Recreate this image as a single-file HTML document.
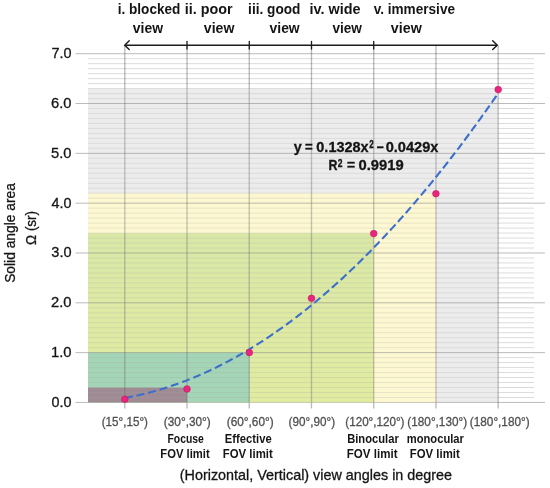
<!DOCTYPE html>
<html><head><meta charset="utf-8"><title>Solid angle area vs view angles</title>
<style>
html,body{margin:0;padding:0;background:#fff;}
body{width:550px;height:488px;overflow:hidden;}
svg{display:block;}
text{font-family:"Liberation Sans",sans-serif;}
.b{font-weight:bold;}
</style></head><body>
<svg width="550" height="488" viewBox="0 0 550 488">
<rect x="0" y="0" width="550" height="488" fill="#ffffff"/>
<g stroke="#000" stroke-opacity="0.14" stroke-width="1">
<line x1="88" x2="534" y1="397.47" y2="397.47"/>
<line x1="88" x2="534" y1="392.49" y2="392.49"/>
<line x1="88" x2="534" y1="387.50" y2="387.50"/>
<line x1="88" x2="534" y1="382.52" y2="382.52"/>
<line x1="88" x2="534" y1="377.54" y2="377.54"/>
<line x1="88" x2="534" y1="372.56" y2="372.56"/>
<line x1="88" x2="534" y1="367.58" y2="367.58"/>
<line x1="88" x2="534" y1="362.59" y2="362.59"/>
<line x1="88" x2="534" y1="357.61" y2="357.61"/>
<line x1="88" x2="534" y1="347.65" y2="347.65"/>
<line x1="88" x2="534" y1="342.67" y2="342.67"/>
<line x1="88" x2="534" y1="337.68" y2="337.68"/>
<line x1="88" x2="534" y1="332.70" y2="332.70"/>
<line x1="88" x2="534" y1="327.72" y2="327.72"/>
<line x1="88" x2="534" y1="322.74" y2="322.74"/>
<line x1="88" x2="534" y1="317.76" y2="317.76"/>
<line x1="88" x2="534" y1="312.77" y2="312.77"/>
<line x1="88" x2="534" y1="307.79" y2="307.79"/>
<line x1="88" x2="534" y1="297.83" y2="297.83"/>
<line x1="88" x2="534" y1="292.85" y2="292.85"/>
<line x1="88" x2="534" y1="287.86" y2="287.86"/>
<line x1="88" x2="534" y1="282.88" y2="282.88"/>
<line x1="88" x2="534" y1="277.90" y2="277.90"/>
<line x1="88" x2="534" y1="272.92" y2="272.92"/>
<line x1="88" x2="534" y1="267.94" y2="267.94"/>
<line x1="88" x2="534" y1="262.95" y2="262.95"/>
<line x1="88" x2="534" y1="257.97" y2="257.97"/>
<line x1="88" x2="534" y1="248.01" y2="248.01"/>
<line x1="88" x2="534" y1="243.03" y2="243.03"/>
<line x1="88" x2="534" y1="238.04" y2="238.04"/>
<line x1="88" x2="534" y1="233.06" y2="233.06"/>
<line x1="88" x2="534" y1="228.08" y2="228.08"/>
<line x1="88" x2="534" y1="223.10" y2="223.10"/>
<line x1="88" x2="534" y1="218.12" y2="218.12"/>
<line x1="88" x2="534" y1="213.13" y2="213.13"/>
<line x1="88" x2="534" y1="208.15" y2="208.15"/>
<line x1="88" x2="534" y1="198.19" y2="198.19"/>
<line x1="88" x2="534" y1="193.21" y2="193.21"/>
<line x1="88" x2="534" y1="188.22" y2="188.22"/>
<line x1="88" x2="534" y1="183.24" y2="183.24"/>
<line x1="88" x2="534" y1="178.26" y2="178.26"/>
<line x1="88" x2="534" y1="173.28" y2="173.28"/>
<line x1="88" x2="534" y1="168.30" y2="168.30"/>
<line x1="88" x2="534" y1="163.31" y2="163.31"/>
<line x1="88" x2="534" y1="158.33" y2="158.33"/>
<line x1="88" x2="534" y1="148.37" y2="148.37"/>
<line x1="88" x2="534" y1="143.39" y2="143.39"/>
<line x1="88" x2="534" y1="138.40" y2="138.40"/>
<line x1="88" x2="534" y1="133.42" y2="133.42"/>
<line x1="88" x2="534" y1="128.44" y2="128.44"/>
<line x1="88" x2="534" y1="123.46" y2="123.46"/>
<line x1="88" x2="534" y1="118.48" y2="118.48"/>
<line x1="88" x2="534" y1="113.49" y2="113.49"/>
<line x1="88" x2="534" y1="108.51" y2="108.51"/>
<line x1="88" x2="534" y1="98.55" y2="98.55"/>
<line x1="88" x2="534" y1="93.57" y2="93.57"/>
<line x1="88" x2="534" y1="88.58" y2="88.58"/>
<line x1="88" x2="534" y1="83.60" y2="83.60"/>
<line x1="88" x2="534" y1="78.62" y2="78.62"/>
<line x1="88" x2="534" y1="73.64" y2="73.64"/>
<line x1="88" x2="534" y1="68.66" y2="68.66"/>
<line x1="88" x2="534" y1="63.67" y2="63.67"/>
<line x1="88" x2="534" y1="58.69" y2="58.69"/>
</g>
<g stroke="#000" stroke-opacity="0.27" stroke-width="1">
<line x1="75.5" x2="545" y1="402.45" y2="402.45"/>
<line x1="75.5" x2="545" y1="352.63" y2="352.63"/>
<line x1="75.5" x2="545" y1="302.81" y2="302.81"/>
<line x1="75.5" x2="545" y1="252.99" y2="252.99"/>
<line x1="75.5" x2="545" y1="203.17" y2="203.17"/>
<line x1="75.5" x2="545" y1="153.35" y2="153.35"/>
<line x1="75.5" x2="545" y1="103.53" y2="103.53"/>
<line x1="75.5" x2="545" y1="53.71" y2="53.71"/>
</g>
<g stroke="#000" stroke-opacity="0.27" stroke-width="1.35">
<line x1="124.80" x2="124.80" y1="45.3" y2="408.5"/>
<line x1="187.03" x2="187.03" y1="45.3" y2="408.5"/>
<line x1="249.26" x2="249.26" y1="45.3" y2="408.5"/>
<line x1="311.49" x2="311.49" y1="45.3" y2="408.5"/>
<line x1="373.72" x2="373.72" y1="45.3" y2="408.5"/>
<line x1="435.95" x2="435.95" y1="45.3" y2="408.5"/>
<line x1="498.18" x2="498.18" y1="45.3" y2="408.5"/>
</g>
<defs><linearGradient id="gg" x1="0" y1="0" x2="0" y2="1"><stop offset="0" stop-color="#d9e8a7"/><stop offset="0.5" stop-color="#deeaa4"/><stop offset="1" stop-color="#e1eba1"/></linearGradient></defs>
<rect x="88" y="89.1" width="410.2" height="313.4" fill="#ececec"/>
<rect x="88" y="193.2" width="348.0" height="209.2" fill="#fdf8d1"/>
<rect x="88" y="233.1" width="285.8" height="169.4" fill="url(#gg)"/>
<rect x="88" y="352.6" width="161.3" height="49.8" fill="#a4d5b6"/>
<rect x="88" y="387.5" width="99.0" height="14.9" fill="#9f8b93"/>
<clipPath id="rg"><rect x="88" y="89.6" width="410.2" height="312.9"/></clipPath>
<g clip-path="url(#rg)">
<g stroke="#a8a8a8" stroke-opacity="0.24" stroke-width="1">
<line x1="88" x2="534" y1="397.47" y2="397.47"/>
<line x1="88" x2="534" y1="392.49" y2="392.49"/>
<line x1="88" x2="534" y1="387.50" y2="387.50"/>
<line x1="88" x2="534" y1="382.52" y2="382.52"/>
<line x1="88" x2="534" y1="377.54" y2="377.54"/>
<line x1="88" x2="534" y1="372.56" y2="372.56"/>
<line x1="88" x2="534" y1="367.58" y2="367.58"/>
<line x1="88" x2="534" y1="362.59" y2="362.59"/>
<line x1="88" x2="534" y1="357.61" y2="357.61"/>
<line x1="88" x2="534" y1="347.65" y2="347.65"/>
<line x1="88" x2="534" y1="342.67" y2="342.67"/>
<line x1="88" x2="534" y1="337.68" y2="337.68"/>
<line x1="88" x2="534" y1="332.70" y2="332.70"/>
<line x1="88" x2="534" y1="327.72" y2="327.72"/>
<line x1="88" x2="534" y1="322.74" y2="322.74"/>
<line x1="88" x2="534" y1="317.76" y2="317.76"/>
<line x1="88" x2="534" y1="312.77" y2="312.77"/>
<line x1="88" x2="534" y1="307.79" y2="307.79"/>
<line x1="88" x2="534" y1="297.83" y2="297.83"/>
<line x1="88" x2="534" y1="292.85" y2="292.85"/>
<line x1="88" x2="534" y1="287.86" y2="287.86"/>
<line x1="88" x2="534" y1="282.88" y2="282.88"/>
<line x1="88" x2="534" y1="277.90" y2="277.90"/>
<line x1="88" x2="534" y1="272.92" y2="272.92"/>
<line x1="88" x2="534" y1="267.94" y2="267.94"/>
<line x1="88" x2="534" y1="262.95" y2="262.95"/>
<line x1="88" x2="534" y1="257.97" y2="257.97"/>
<line x1="88" x2="534" y1="248.01" y2="248.01"/>
<line x1="88" x2="534" y1="243.03" y2="243.03"/>
<line x1="88" x2="534" y1="238.04" y2="238.04"/>
<line x1="88" x2="534" y1="233.06" y2="233.06"/>
<line x1="88" x2="534" y1="228.08" y2="228.08"/>
<line x1="88" x2="534" y1="223.10" y2="223.10"/>
<line x1="88" x2="534" y1="218.12" y2="218.12"/>
<line x1="88" x2="534" y1="213.13" y2="213.13"/>
<line x1="88" x2="534" y1="208.15" y2="208.15"/>
<line x1="88" x2="534" y1="198.19" y2="198.19"/>
<line x1="88" x2="534" y1="193.21" y2="193.21"/>
<line x1="88" x2="534" y1="188.22" y2="188.22"/>
<line x1="88" x2="534" y1="183.24" y2="183.24"/>
<line x1="88" x2="534" y1="178.26" y2="178.26"/>
<line x1="88" x2="534" y1="173.28" y2="173.28"/>
<line x1="88" x2="534" y1="168.30" y2="168.30"/>
<line x1="88" x2="534" y1="163.31" y2="163.31"/>
<line x1="88" x2="534" y1="158.33" y2="158.33"/>
<line x1="88" x2="534" y1="148.37" y2="148.37"/>
<line x1="88" x2="534" y1="143.39" y2="143.39"/>
<line x1="88" x2="534" y1="138.40" y2="138.40"/>
<line x1="88" x2="534" y1="133.42" y2="133.42"/>
<line x1="88" x2="534" y1="128.44" y2="128.44"/>
<line x1="88" x2="534" y1="123.46" y2="123.46"/>
<line x1="88" x2="534" y1="118.48" y2="118.48"/>
<line x1="88" x2="534" y1="113.49" y2="113.49"/>
<line x1="88" x2="534" y1="108.51" y2="108.51"/>
<line x1="88" x2="534" y1="98.55" y2="98.55"/>
<line x1="88" x2="534" y1="93.57" y2="93.57"/>
<line x1="88" x2="534" y1="88.58" y2="88.58"/>
<line x1="88" x2="534" y1="83.60" y2="83.60"/>
<line x1="88" x2="534" y1="78.62" y2="78.62"/>
<line x1="88" x2="534" y1="73.64" y2="73.64"/>
<line x1="88" x2="534" y1="68.66" y2="68.66"/>
<line x1="88" x2="534" y1="63.67" y2="63.67"/>
<line x1="88" x2="534" y1="58.69" y2="58.69"/>
</g>
<g stroke="#909090" stroke-opacity="0.6" stroke-width="1">
<line x1="75.5" x2="545" y1="402.45" y2="402.45"/>
<line x1="75.5" x2="545" y1="352.63" y2="352.63"/>
<line x1="75.5" x2="545" y1="302.81" y2="302.81"/>
<line x1="75.5" x2="545" y1="252.99" y2="252.99"/>
<line x1="75.5" x2="545" y1="203.17" y2="203.17"/>
<line x1="75.5" x2="545" y1="153.35" y2="153.35"/>
<line x1="75.5" x2="545" y1="103.53" y2="103.53"/>
<line x1="75.5" x2="545" y1="53.71" y2="53.71"/>
</g>
<g stroke="#606060" stroke-opacity="0.36" stroke-width="1.35">
<line x1="124.80" x2="124.80" y1="45.3" y2="408.5"/>
<line x1="187.03" x2="187.03" y1="45.3" y2="408.5"/>
<line x1="249.26" x2="249.26" y1="45.3" y2="408.5"/>
<line x1="311.49" x2="311.49" y1="45.3" y2="408.5"/>
<line x1="373.72" x2="373.72" y1="45.3" y2="408.5"/>
<line x1="435.95" x2="435.95" y1="45.3" y2="408.5"/>
<line x1="498.18" x2="498.18" y1="45.3" y2="408.5"/>
</g>
</g>
<g stroke="#1c1c1c" stroke-width="1.45" fill="none" stroke-linecap="round" stroke-linejoin="miter">
<line x1="125.2" x2="496.8" y1="45.15" y2="45.15" stroke-linecap="butt"/>
<polyline points="129.2,40.8 124.75,45.15 129.2,49.5"/>
<polyline points="492.7,40.8 497.25,45.15 492.7,49.5"/>
<line x1="187.0" x2="187.0" y1="41.4" y2="49.0" stroke-width="1.3"/>
<line x1="249.3" x2="249.3" y1="41.4" y2="49.0" stroke-width="1.3"/>
<line x1="311.5" x2="311.5" y1="41.4" y2="49.0" stroke-width="1.3"/>
<line x1="373.7" x2="373.7" y1="41.4" y2="49.0" stroke-width="1.3"/>
</g>
<path d="M124.8,398.0 L125.5,397.8 L126.3,397.7 L127.0,397.6 L127.8,397.4 L128.5,397.3 L129.3,397.1 L130.0,397.0 L130.8,396.8 L131.5,396.7 L132.3,396.5 L132.8,396.4 M136.5,395.7 L137.2,395.5 L138.0,395.3 L138.7,395.2 L139.5,395.0 L140.2,394.8 L141.0,394.6 L141.7,394.5 L142.5,394.3 L143.2,394.1 L144.0,393.9 L144.3,393.8 M148.1,392.9 L148.8,392.7 L149.6,392.5 L150.3,392.3 L151.1,392.1 L151.8,391.9 L152.6,391.7 L153.3,391.5 L154.0,391.3 L154.8,391.1 L155.5,390.9 L155.8,390.8 M159.5,389.7 L160.3,389.5 L161.0,389.3 L161.8,389.0 L162.5,388.8 L163.3,388.6 L164.0,388.4 L164.8,388.1 L165.5,387.9 L166.2,387.6 L167.0,387.4 L167.2,387.3 M171.0,386.1 L171.7,385.8 L172.5,385.6 L173.2,385.3 L174.0,385.1 L174.7,384.8 L175.5,384.6 L176.2,384.3 L176.9,384.0 L177.7,383.8 L178.4,383.5 L178.4,383.5 M182.2,382.1 L182.9,381.8 L183.7,381.6 L184.4,381.3 L185.2,381.0 L185.9,380.7 L186.7,380.4 L187.4,380.1 L188.2,379.8 L188.9,379.5 L189.6,379.2 L189.6,379.2 M193.3,377.8 L194.0,377.5 L194.7,377.1 L195.5,376.8 L196.2,376.5 L197.0,376.2 L197.7,375.9 L198.5,375.6 L199.2,375.2 L200.0,374.9 L200.6,374.6 M204.1,373.1 L204.8,372.8 L205.6,372.4 L206.3,372.1 L207.1,371.7 L207.8,371.4 L208.6,371.1 L209.3,370.7 L210.1,370.4 L210.8,370.0 L211.4,369.7 M214.9,368.0 L215.7,367.7 L216.4,367.3 L217.1,366.9 L217.9,366.6 L218.6,366.2 L219.4,365.8 L220.1,365.4 L220.9,365.1 L221.6,364.7 L222.1,364.4 M225.5,362.7 L226.2,362.3 L227.0,361.9 L227.7,361.5 L228.5,361.1 L229.2,360.7 L230.0,360.3 L230.7,359.9 L231.5,359.5 L232.2,359.1 L232.6,358.9 M236.1,357.0 L236.8,356.6 L237.6,356.1 L238.3,355.7 L239.1,355.3 L239.8,354.9 L240.5,354.4 L241.3,354.0 L242.0,353.6 L242.8,353.2 L242.9,353.1 M246.3,351.1 L247.0,350.7 L247.8,350.2 L248.5,349.8 L249.3,349.3 L250.0,348.9 L250.8,348.4 L251.5,348.0 L252.2,347.5 L253.0,347.0 L253.1,347.0 M256.5,344.9 L257.2,344.4 L258.0,343.9 L258.7,343.5 L259.5,343.0 L260.2,342.5 L261.0,342.0 L261.7,341.5 L262.5,341.1 L263.2,340.6 L263.2,340.6 M266.4,338.4 L267.2,338.0 L267.9,337.5 L268.7,337.0 L269.4,336.5 L270.2,336.0 L270.9,335.4 L271.7,334.9 L272.4,334.4 L273.2,333.9 L273.2,333.9 M276.3,331.8 L277.0,331.2 L277.8,330.7 L278.5,330.2 L279.3,329.7 L280.0,329.1 L280.7,328.6 L281.5,328.1 L282.2,327.6 L282.9,327.1 M286.0,324.9 L286.7,324.3 L287.5,323.8 L288.2,323.2 L289.0,322.7 L289.7,322.1 L290.5,321.6 L291.2,321.0 L291.9,320.4 L292.4,320.1 M295.6,317.7 L296.3,317.1 L297.1,316.6 L297.8,316.0 L298.5,315.4 L299.3,314.8 L300.0,314.3 L300.8,313.7 L301.5,313.1 L301.9,312.8 M305.0,310.4 L305.8,309.8 L306.5,309.2 L307.3,308.6 L308.0,308.0 L308.8,307.4 L309.5,306.8 L310.2,306.2 L311.0,305.5 L311.2,305.3 M314.2,302.9 L315.0,302.3 L315.7,301.7 L316.5,301.0 L317.2,300.4 L318.0,299.8 L318.7,299.2 L319.5,298.5 L320.2,297.9 L320.3,297.8 M323.2,295.4 L323.9,294.7 L324.7,294.1 L325.4,293.4 L326.2,292.8 L326.9,292.1 L327.7,291.5 L328.4,290.8 L329.2,290.2 L329.2,290.2 M331.9,287.8 L332.6,287.1 L333.4,286.4 L334.1,285.8 L334.9,285.1 L335.6,284.4 L336.4,283.8 L337.1,283.1 L337.9,282.4 L337.9,282.4 M340.6,279.9 L341.4,279.2 L342.1,278.6 L342.9,277.9 L343.6,277.2 L344.3,276.5 L345.1,275.8 L345.8,275.1 L346.5,274.5 M349.2,271.9 L349.9,271.2 L350.7,270.5 L351.4,269.8 L352.2,269.1 L352.9,268.4 L353.7,267.7 L354.4,266.9 L354.9,266.5 M357.5,263.9 L358.3,263.2 L359.0,262.5 L359.8,261.7 L360.5,261.0 L361.3,260.3 L362.0,259.5 L362.8,258.8 L363.3,258.3 M365.9,255.7 L366.6,254.9 L367.4,254.2 L368.1,253.4 L368.9,252.7 L369.6,251.9 L370.4,251.2 L371.1,250.4 L371.5,250.0 M374.1,247.3 L374.8,246.6 L375.6,245.8 L376.3,245.0 L377.1,244.3 L377.8,243.5 L378.6,242.7 L379.3,241.9 L379.6,241.7 M382.2,238.9 L382.9,238.1 L383.7,237.3 L384.4,236.5 L385.2,235.7 L385.9,234.9 L386.7,234.1 L387.4,233.3 L387.7,233.1 M390.1,230.4 L390.9,229.6 L391.6,228.7 L392.4,227.9 L393.1,227.1 L393.9,226.3 L394.6,225.5 L395.4,224.7 L395.5,224.5 M398.0,221.8 L398.7,220.9 L399.5,220.1 L400.2,219.3 L401.0,218.4 L401.7,217.6 L402.5,216.7 L403.2,215.9 L403.3,215.8 M405.7,213.1 L406.5,212.2 L407.2,211.4 L407.9,210.5 L408.7,209.7 L409.4,208.8 L410.2,207.9 L410.9,207.1 L410.9,207.1 M413.4,204.2 L414.2,203.3 L414.9,202.5 L415.7,201.6 L416.4,200.7 L417.2,199.8 L417.9,198.9 L418.5,198.2 M420.9,195.4 L421.6,194.5 L422.4,193.6 L423.1,192.7 L423.9,191.8 L424.6,190.9 L425.4,190.0 L426.0,189.3 M428.4,186.4 L429.1,185.5 L429.9,184.6 L430.6,183.7 L431.3,182.8 L432.1,181.9 L432.8,180.9 L433.5,180.2 M435.7,177.4 L436.4,176.5 L437.2,175.5 L437.9,174.6 L438.7,173.7 L439.4,172.7 L440.2,171.8 L440.8,171.0 M443.0,168.2 L443.8,167.3 L444.5,166.3 L445.3,165.4 L446.0,164.4 L446.8,163.5 L447.5,162.5 L448.0,161.9 M450.3,159.0 L451.0,158.0 L451.8,157.0 L452.5,156.1 L453.2,155.1 L454.0,154.1 L454.7,153.2 L455.1,152.7 M457.4,149.7 L458.1,148.8 L458.9,147.8 L459.6,146.8 L460.3,145.8 L461.1,144.8 L461.8,143.8 L462.2,143.3 M464.3,140.5 L465.1,139.5 L465.8,138.5 L466.6,137.5 L467.3,136.5 L468.1,135.5 L468.8,134.5 L469.2,134.0 M471.3,131.1 L472.0,130.1 L472.8,129.0 L473.5,128.0 L474.3,127.0 L475.0,126.0 L475.8,124.9 L476.0,124.6 M478.1,121.7 L478.9,120.6 L479.6,119.6 L480.4,118.6 L481.1,117.5 L481.9,116.5 L482.6,115.4 L482.9,115.1 M485.0,112.1 L485.7,111.1 L486.5,110.0 L487.2,108.9 L488.0,107.9 L488.7,106.8 L489.5,105.8 L489.6,105.6 M491.7,102.6 L492.5,101.5 L493.2,100.4 L493.9,99.3 L494.7,98.3 L495.4,97.2 L496.2,96.1 L496.3,95.9" fill="none" stroke="#3b6fcb" stroke-width="2.1"/>
<circle cx="124.8" cy="399.3" r="3.3" fill="#e9267d" stroke="#c91a68" stroke-width="0.7"/>
<circle cx="187.0" cy="389.0" r="3.3" fill="#e9267d" stroke="#c91a68" stroke-width="0.7"/>
<circle cx="249.3" cy="352.6" r="3.3" fill="#e9267d" stroke="#c91a68" stroke-width="0.7"/>
<circle cx="311.5" cy="298.3" r="3.3" fill="#e9267d" stroke="#c91a68" stroke-width="0.7"/>
<circle cx="373.7" cy="233.6" r="3.3" fill="#e9267d" stroke="#c91a68" stroke-width="0.7"/>
<circle cx="435.9" cy="193.7" r="3.3" fill="#e9267d" stroke="#c91a68" stroke-width="0.7"/>
<circle cx="498.2" cy="89.6" r="3.3" fill="#e9267d" stroke="#c91a68" stroke-width="0.7"/>
<text x="117.70" y="14.2" font-size="14.4" textLength="62.71" lengthAdjust="spacingAndGlyphs" fill="#151515" class="b">i. blocked</text>
<text x="132.78" y="32.6" font-size="14.4" textLength="30.22" lengthAdjust="spacingAndGlyphs" fill="#151515" class="b">view</text>
<text x="184.77" y="14.2" font-size="14.4" textLength="47.76" lengthAdjust="spacingAndGlyphs" fill="#151515" class="b">ii. poor</text>
<text x="203.86" y="32.6" font-size="14.4" textLength="30.54" lengthAdjust="spacingAndGlyphs" fill="#151515" class="b">view</text>
<text x="248.10" y="14.2" font-size="14.4" textLength="52.30" lengthAdjust="spacingAndGlyphs" fill="#151515" class="b">iii. good</text>
<text x="269.53" y="32.6" font-size="14.4" textLength="30.19" lengthAdjust="spacingAndGlyphs" fill="#151515" class="b">view</text>
<text x="309.58" y="14.2" font-size="14.4" textLength="50.98" lengthAdjust="spacingAndGlyphs" fill="#151515" class="b">iv. wide</text>
<text x="332.42" y="32.6" font-size="14.4" textLength="29.49" lengthAdjust="spacingAndGlyphs" fill="#151515" class="b">view</text>
<text x="373.64" y="14.2" font-size="14.4" textLength="81.40" lengthAdjust="spacingAndGlyphs" fill="#151515" class="b">v. immersive</text>
<text x="390.84" y="32.6" font-size="14.4" textLength="30.90" lengthAdjust="spacingAndGlyphs" fill="#151515" class="b">view</text>
<text x="51.55" y="406.8" font-size="14.8" textLength="19.97" lengthAdjust="spacingAndGlyphs" fill="#151515" stroke="#151515" stroke-width="0.3">0.0</text>
<text x="50.96" y="357.0" font-size="14.8" textLength="20.57" lengthAdjust="spacingAndGlyphs" fill="#151515" stroke="#151515" stroke-width="0.3">1.0</text>
<text x="51.01" y="307.2" font-size="14.8" textLength="20.52" lengthAdjust="spacingAndGlyphs" fill="#151515" stroke="#151515" stroke-width="0.3">2.0</text>
<text x="51.32" y="257.4" font-size="14.8" textLength="20.21" lengthAdjust="spacingAndGlyphs" fill="#151515" stroke="#151515" stroke-width="0.3">3.0</text>
<text x="51.59" y="207.6" font-size="14.8" textLength="19.96" lengthAdjust="spacingAndGlyphs" fill="#151515" stroke="#151515" stroke-width="0.3">4.0</text>
<text x="51.10" y="157.8" font-size="14.8" textLength="20.45" lengthAdjust="spacingAndGlyphs" fill="#151515" stroke="#151515" stroke-width="0.3">5.0</text>
<text x="51.12" y="107.9" font-size="14.8" textLength="20.44" lengthAdjust="spacingAndGlyphs" fill="#151515" stroke="#151515" stroke-width="0.3">6.0</text>
<text x="51.49" y="58.1" font-size="14.8" textLength="20.06" lengthAdjust="spacingAndGlyphs" fill="#151515" stroke="#151515" stroke-width="0.3">7.0</text>
<g transform="translate(15.2,282.87) rotate(-90)"><text x="0" y="0" font-size="14.2" textLength="99.72" lengthAdjust="spacingAndGlyphs" fill="#151515" stroke="#151515" stroke-width="0.3">Solid angle area</text></g>
<g transform="translate(36.1,244.92) rotate(-90)"><text x="0" y="0" font-size="14.2" textLength="33.99" lengthAdjust="spacingAndGlyphs" fill="#151515" stroke="#151515" stroke-width="0.3">Ω (sr)</text></g>
<text x="101.66" y="426.3" font-size="12.4" textLength="46.31" lengthAdjust="spacingAndGlyphs" fill="#505050" stroke="#505050" stroke-width="0.3">(15°,15°)</text>
<text x="163.82" y="426.3" font-size="12.4" textLength="46.92" lengthAdjust="spacingAndGlyphs" fill="#505050" stroke="#505050" stroke-width="0.3">(30°,30°)</text>
<text x="226.69" y="426.3" font-size="12.4" textLength="46.98" lengthAdjust="spacingAndGlyphs" fill="#505050" stroke="#505050" stroke-width="0.3">(60°,60°)</text>
<text x="288.62" y="426.3" font-size="12.4" textLength="46.45" lengthAdjust="spacingAndGlyphs" fill="#505050" stroke="#505050" stroke-width="0.3">(90°,90°)</text>
<text x="345.29" y="426.3" font-size="12.4" textLength="59.22" lengthAdjust="spacingAndGlyphs" fill="#505050" stroke="#505050" stroke-width="0.3">(120°,120°)</text>
<text x="407.34" y="426.3" font-size="12.4" textLength="59.79" lengthAdjust="spacingAndGlyphs" fill="#505050" stroke="#505050" stroke-width="0.3">(180°,130°)</text>
<text x="469.82" y="426.3" font-size="12.4" textLength="59.82" lengthAdjust="spacingAndGlyphs" fill="#505050" stroke="#505050" stroke-width="0.3">(180°,180°)</text>
<text x="167.52" y="443.2" font-size="12.4" textLength="36.39" lengthAdjust="spacingAndGlyphs" fill="#151515" class="b">Focuse</text>
<text x="160.34" y="458.3" font-size="12.4" textLength="49.35" lengthAdjust="spacingAndGlyphs" fill="#151515" class="b">FOV limit</text>
<text x="224.80" y="443.2" font-size="12.4" textLength="46.92" lengthAdjust="spacingAndGlyphs" fill="#151515" class="b">Effective</text>
<text x="222.78" y="458.3" font-size="12.4" textLength="50.00" lengthAdjust="spacingAndGlyphs" fill="#151515" class="b">FOV limit</text>
<text x="347.15" y="443.2" font-size="12.4" textLength="51.64" lengthAdjust="spacingAndGlyphs" fill="#151515" class="b">Binocular</text>
<text x="346.82" y="458.3" font-size="12.4" textLength="50.67" lengthAdjust="spacingAndGlyphs" fill="#151515" class="b">FOV limit</text>
<text x="406.79" y="443.2" font-size="12.4" textLength="57.10" lengthAdjust="spacingAndGlyphs" fill="#151515" class="b">monocular</text>
<text x="409.78" y="458.3" font-size="12.4" textLength="49.94" lengthAdjust="spacingAndGlyphs" fill="#151515" class="b">FOV limit</text>
<text x="179.82" y="480.1" font-size="14.8" textLength="272.26" lengthAdjust="spacingAndGlyphs" fill="#151515" stroke="#151515" stroke-width="0.3">(Horizontal, Vertical) view angles in degree</text>
<text class="b" fill="#151515" stroke="#151515" stroke-width="0.3"><tspan x="293.80" y="152.0" font-size="14.4" textLength="8.03" lengthAdjust="spacingAndGlyphs">y</tspan> <tspan x="305.12" y="152.0" font-size="14.4" textLength="7.67" lengthAdjust="spacingAndGlyphs">=</tspan> <tspan x="316.34" y="152.0" font-size="14.4" textLength="52.30" lengthAdjust="spacingAndGlyphs">0.1328x</tspan> <tspan x="369.32" y="148.1" font-size="10.6" textLength="4.46" lengthAdjust="spacingAndGlyphs">2</tspan> <tspan x="376.48" y="152.0" font-size="14.4" textLength="7.23" lengthAdjust="spacingAndGlyphs">−</tspan> <tspan x="385.70" y="152.0" font-size="14.4" textLength="52.79" lengthAdjust="spacingAndGlyphs">0.0429x</tspan></text>
<text class="b" fill="#151515" stroke="#151515" stroke-width="0.3"><tspan x="328.55" y="170.4" font-size="14.4" textLength="8.99" lengthAdjust="spacingAndGlyphs">R</tspan> <tspan x="337.86" y="166.5" font-size="10.6" textLength="4.75" lengthAdjust="spacingAndGlyphs">2</tspan> <tspan x="346.96" y="170.4" font-size="14.4" textLength="8.07" lengthAdjust="spacingAndGlyphs">=</tspan> <tspan x="358.47" y="170.4" font-size="14.4" textLength="45.19" lengthAdjust="spacingAndGlyphs">0.9919</tspan></text>
</svg></body></html>
